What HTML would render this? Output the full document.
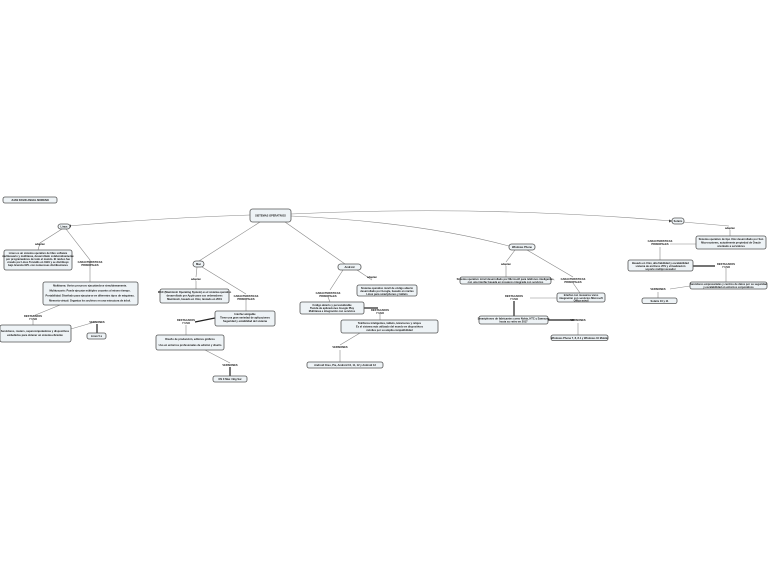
<!DOCTYPE html>
<html><head><meta charset="utf-8"><style>
html,body{margin:0;padding:0;background:#fff;width:768px;height:578px;overflow:hidden}
svg{display:block}
text{font-family:"Liberation Sans",sans-serif;font-size:2.6px;fill:#111;text-anchor:middle;font-weight:bold}
.b{fill:#eef3f6;stroke:#555;stroke-width:0.8}
.l{stroke:#888;stroke-width:0.6;fill:none}
.k{stroke:#222;stroke-width:1.2;fill:none}
</style></head><body>
<svg width="768" height="578" viewBox="0 0 768 578">
<path class="l" d="M250 215 Q160 218 68 226"/>
<path class="l" d="M291 214 Q480 205 672 221"/>
<path class="l" d="M291 216 Q420 222 509 246"/>
<path class="l" d="M260 222 L199 261"/>
<path class="l" d="M285 222 L345 264"/>
<path class="l" d="M62 229 L40 243 L38 250"/>
<path class="l" d="M66 229 L90 260 L90 282"/>
<path class="l" d="M60 305 L33 316 M33 320 L33 325"/>
<path class="l" d="M50 335 L95 322"/>
<path class="k" d="M97 324 L97 333"/>
<path class="l" d="M197 267 L196 277 M196 281 L196 289"/>
<path class="l" d="M202 267 L246 294 M246 300 L246 311"/>
<path class="l" d="M186 325 L186 335"/>
<path class="k" d="M195 322 L215 318"/>
<path class="l" d="M205 350 L230 363"/>
<path class="k" d="M230 367 L230 376"/>
<path class="l" d="M343 270 L330 290 M328 297 L330 302"/>
<path class="l" d="M357 270 L372 280"/>
<path class="k" d="M364 308 L378 308"/>
<path class="l" d="M380 313 L380 320"/>
<path class="l" d="M360 333 L340 345 M340 350 L340 362"/>
<path class="l" d="M515 250 L506 262 M506 266 L506 277"/>
<path class="l" d="M527 250 L573 277 M573 283 L580 293"/>
<path class="l" d="M557 298 L530 298"/>
<path class="k" d="M514 301 L514 316"/>
<path class="k" d="M548 320 L574 320"/>
<path class="l" d="M578 323 L578 335"/>
<path class="l" d="M683 222 L729 226 M730 230 L730 236"/>
<path class="l" d="M696 244 L670 244 M660 247 L660 260"/>
<path class="k" d="M693 266 L715 266"/>
<path class="l" d="M726 268 L726 282"/>
<path class="l" d="M690 286 L670 289 M658 292 L658 298"/>
<path d="M68 226 l3 -1.5 l0 3z" fill="#444"/>
<path d="M672 221 l-3 -1.5 l0 3z" fill="#444"/>
<rect class="b" x="3" y="197" width="54" height="6" rx="2"/><text x="30" y="201">JUAN DAVID ANGEL MORENO</text>
<rect class="b" x="250" y="209" width="41" height="13" rx="2.5"/><text x="270.5" y="216.5">SISTEMAS OPERATIVOS</text>
<rect class="b" x="58" y="224" width="12" height="5" rx="2.5"/><text x="64" y="227.5">Linux</text>
<text x="40" y="245">adaptan</text>
<rect class="b" x="4" y="250" width="68" height="20" rx="2"/>
<text x="38" y="254">Linux es un sistema operativo de libre software</text><text x="38" y="257">multiusuario y multitarea, desarrollado colaborativamente</text><text x="38" y="260">por programadores de todo el mundo. El núcleo fue</text><text x="38" y="263">creado por Linus Torvalds en 1991 y se distribuye</text><text x="38" y="266">bajo licencia GPL con numerosas distribuciones</text>
<text x="90" y="263">CARACTERISTICAS</text><text x="90" y="266">PRINCIPALES</text>
<rect class="b" x="43" y="282" width="95" height="23" rx="2"/>
<text x="90" y="286.5">Multitarea: Varios procesos ejecutándose simultáneamente.</text><text x="90" y="291.5">Multiusuario: Puede ejecutar múltiples usuarios al mismo tiempo.</text><text x="90" y="296.5">Portabilidad: Diseñado para ejecutarse en diferentes tipos de máquinas.</text><text x="90" y="301.5">Memoria virtual: Organiza los archivos en una estructura de árbol.</text>
<text x="33" y="317">DESTACADOS</text><text x="33" y="320">Y USO</text>
<rect class="b" x="0" y="325" width="71" height="17" rx="2"/>
<text x="35" y="332">Servidores, routers, supercomputadoras y dispositivos</text><text x="35" y="336">embebidos para obtener un sistema eficiente</text>
<text x="97" y="323">VERSIONES</text>
<rect class="b" x="87" y="333" width="19" height="6" rx="2"/><text x="96.5" y="337">Linux 5.x</text>
<rect class="b" x="193" y="261" width="11" height="6" rx="3"/><text x="198.5" y="265">Mac</text>
<text x="196" y="280">adaptan</text>
<rect class="b" x="160" y="289" width="69" height="14" rx="2"/>
<text x="194.5" y="293">MAC (Macintosh Operating System) es el sistema operativo</text><text x="194.5" y="296.5">desarrollado por Apple para sus ordenadores</text><text x="194.5" y="300">Macintosh, basado en Unix, lanzado en 2001</text>
<text x="246" y="297">CARACTERISTICAS</text><text x="246" y="300">PRINCIPALES</text>
<rect class="b" x="215" y="311" width="60" height="15" rx="2"/>
<text x="245" y="315">Interfaz amigable</text><text x="245" y="318.5">Tiene una gran variedad de aplicaciones</text><text x="245" y="322">Seguridad y estabilidad del sistema</text>
<text x="186" y="321">DESTACADOS</text><text x="186" y="324">Y USO</text>
<rect class="b" x="156" y="335" width="68" height="15" rx="2"/>
<text x="190" y="340">Diseño de producción, editores gráficos</text><text x="190" y="346">Uso en entornos profesionales de edición y diseño</text>
<text x="230" y="366">VERSIONES</text>
<rect class="b" x="213" y="376" width="34" height="6" rx="2"/><text x="230" y="380">OS X Mac / Big Sur</text>
<rect class="b" x="338" y="264" width="23" height="6" rx="2.5"/><text x="349.5" y="268">Android</text>
<text x="372" y="278">adaptan</text>
<rect class="b" x="357" y="285" width="60" height="11" rx="2"/>
<text x="387" y="289">Sistema operativo móvil de código abierto</text><text x="387" y="292">desarrollado por Google, basado en núcleo</text><text x="387" y="295">Linux para smartphones y tablets</text>
<text x="328" y="294">CARACTERISTICAS</text><text x="328" y="297">PRINCIPALES</text>
<rect class="b" x="300" y="302" width="64" height="12" rx="2"/>
<text x="332" y="306">Código abierto y personalizable</text><text x="332" y="309">Tienda de aplicaciones Google Play</text><text x="332" y="312">Multitarea e integración con servicios</text>
<text x="380" y="311">DESTACADOS</text><text x="380" y="314">Y USO</text>
<rect class="b" x="341" y="320" width="97" height="13" rx="2"/>
<text x="389.5" y="324">Teléfonos inteligentes, tablets, televisores y relojes</text><text x="389.5" y="327.5">Es el sistema más utilizado del mundo en dispositivos</text><text x="389.5" y="331">móviles por su amplia compatibilidad</text>
<text x="340" y="348">VERSIONES</text>
<rect class="b" x="307" y="362" width="76" height="6" rx="2"/><text x="345" y="366">Android Oreo, Pie, Android 10, 11, 12 y Android 13</text>
<rect class="b" x="509" y="244" width="26" height="6" rx="2.5"/><text x="522" y="248">Windows Phone</text>
<text x="506" y="265">adaptan</text>
<rect class="b" x="460" y="277" width="91" height="7" rx="2"/>
<text x="505.5" y="280">Sistema operativo móvil desarrollado por Microsoft para teléfonos inteligentes,</text><text x="505.5" y="283">con una interfaz basada en mosaicos integrada con servicios</text>
<text x="573" y="280">CARACTERISTICAS</text><text x="573" y="283">PRINCIPALES</text>
<rect class="b" x="557" y="293" width="48" height="9" rx="2"/>
<text x="581" y="296">Interfaz con mosaicos vivos</text><text x="581" y="299">integración con servicios Microsoft</text><text x="581" y="301.5">Office móvil</text>
<text x="514" y="297">DESTACADOS</text><text x="514" y="300">Y USO</text>
<rect class="b" x="479" y="316" width="69" height="8" rx="2"/>
<text x="513.5" y="319.5">Smartphones de fabricantes como Nokia, HTC y Samsung</text><text x="513.5" y="322.5">hasta su retiro en 2017</text>
<text x="578" y="321">VERSIONES</text>
<rect class="b" x="551" y="335" width="57" height="5.5" rx="2"/><text x="579.5" y="339">Windows Phone 7, 8, 8.1 y Windows 10 Mobile</text>
<rect class="b" x="672" y="218" width="12" height="6" rx="2.5"/><text x="678" y="222">Solaris</text>
<text x="730" y="229">adaptan</text>
<rect class="b" x="696" y="236" width="70" height="13" rx="2"/>
<text x="731" y="240">Sistema operativo de tipo Unix desarrollado por Sun</text><text x="731" y="243.5">Microsystems, actualmente propiedad de Oracle</text><text x="731" y="247">orientado a servidores</text>
<text x="660" y="242">CARACTERISTICAS</text><text x="660" y="245">PRINCIPALES</text>
<rect class="b" x="628" y="260" width="65" height="11" rx="2"/>
<text x="660.5" y="264">Basado en Unix, alta fiabilidad y escalabilidad</text><text x="660.5" y="267">sistema de archivos ZFS y virtualización</text><text x="660.5" y="270">soporte multiprocesador</text>
<text x="726" y="265">DESTACADOS</text><text x="726" y="268">Y USO</text>
<rect class="b" x="690" y="282" width="77" height="7" rx="2"/>
<text x="728.5" y="285">Servidores empresariales y centros de datos por su seguridad</text><text x="728.5" y="288">y escalabilidad en entornos corporativos</text>
<text x="658" y="290">VERSIONES</text>
<rect class="b" x="642" y="298" width="35" height="5.5" rx="2"/><text x="659.5" y="302">Solaris 10 y 11</text>
</svg>
</body></html>
